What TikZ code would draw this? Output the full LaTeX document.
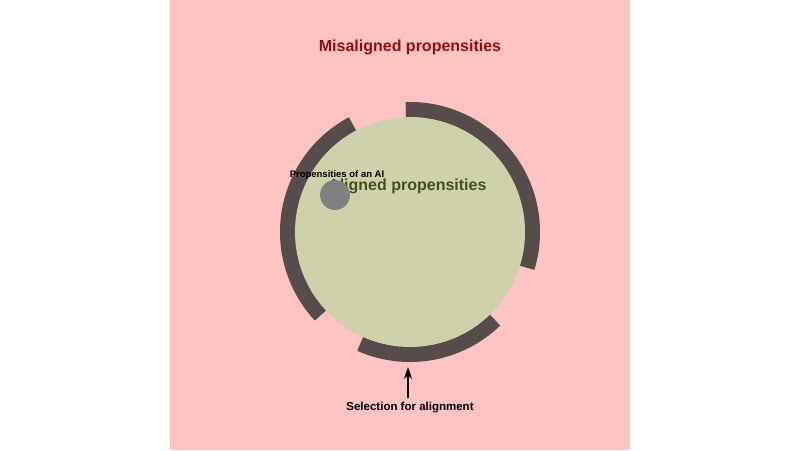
\documentclass[tikz,border=0pt]{standalone}
\usepackage{fontspec}
\usetikzlibrary{arrows.meta}
\setmainfont{Liberation Sans}
\begin{document}
\begin{tikzpicture}[x=1pt,y=1pt,
  band/.style={draw=arcc,line width=16pt},
  lbl/.style={font=\bfseries\fontsize{11.5}{13}\selectfont,text=black,inner sep=0pt}]
\definecolor{pinkbg}{HTML}{FEC3C3}
\definecolor{arcc}{HTML}{574C4C}
\definecolor{disc}{HTML}{CFD1AA}
\definecolor{titlec}{HTML}{8E1010}
\definecolor{greenc}{HTML}{3B5323}
\useasboundingbox (0,0) rectangle (800,450);
\fill[white] (0,0) rectangle (800,450);
\fill[pinkbg] (170,0) rectangle (630,450);
\coordinate (c) at (410,218);
\draw[band] (c) ++(92:122) arc[start angle=92,end angle=-17,radius=122];
\draw[band] (c) ++(118:122) arc[start angle=118,end angle=223,radius=122];
\draw[band] (c) ++(246:122) arc[start angle=246,end angle=314,radius=122];
\fill[disc] (c) circle (115);
\node[font=\bfseries\fontsize{16}{18}\selectfont,text=titlec] (title) at (410,403) {Misaligned propensities};
\node[font=\bfseries\fontsize{16}{18}\selectfont,text=greenc,anchor=east] (aligned) at (490,264) {Aligned propensities};
\fill[gray] (335,255) circle (15) node (ai) {};
\node[lbl,font=\bfseries\fontsize{9.5}{11}\selectfont] (ailbl) at (337,275) {Propensities of an AI};
\node[lbl] (sel) at (410,42) {Selection for alignment};
\coordinate (tip) at (408,83);
\draw[-{Stealth[length=12pt,width=8pt]},line width=1.2pt] (408,52) -- (tip);
\end{tikzpicture}
\end{document}
